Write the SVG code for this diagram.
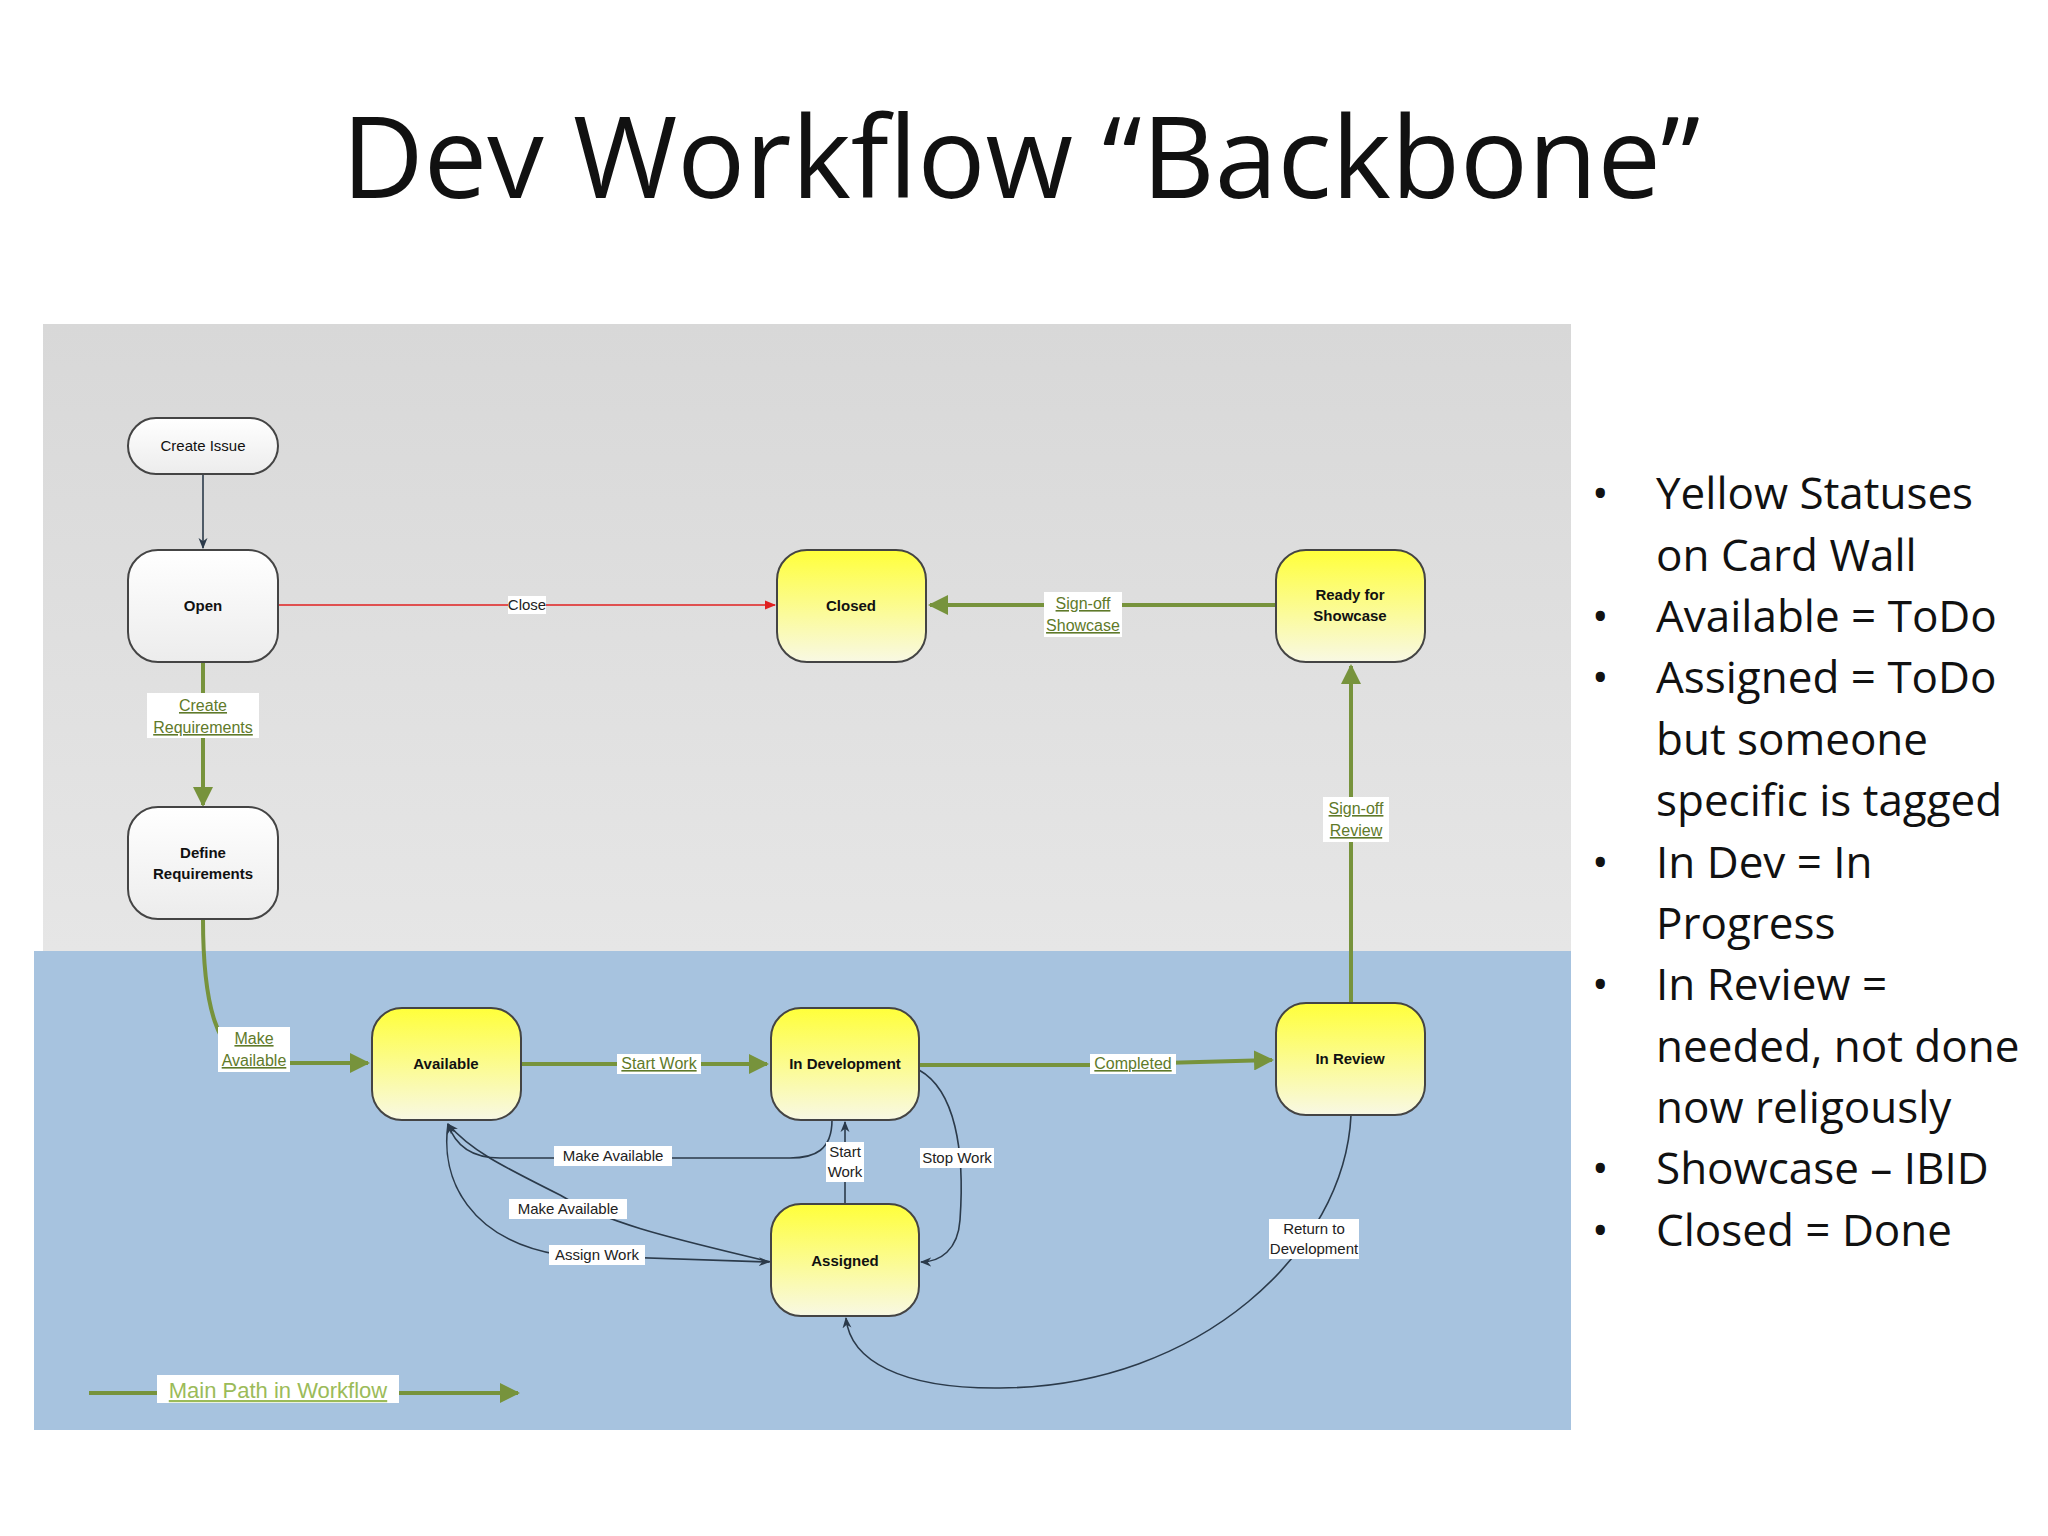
<svg xmlns="http://www.w3.org/2000/svg" width="2048" height="1536" viewBox="0 0 2048 1536">
<defs>
<linearGradient id="yel" x1="0" y1="0" x2="0" y2="1"><stop offset="0" stop-color="#ffff3a"/><stop offset="1" stop-color="#f8f8e4"/></linearGradient>
<linearGradient id="wht" x1="0" y1="0" x2="0" y2="1"><stop offset="0" stop-color="#ffffff"/><stop offset="1" stop-color="#ececec"/></linearGradient>
<linearGradient id="gry" x1="0" y1="0" x2="0" y2="1"><stop offset="0" stop-color="#d8d8d8"/><stop offset="1" stop-color="#e6e6e6"/></linearGradient>
<marker id="ag" viewBox="0 0 10 10" refX="9" refY="5" markerWidth="5" markerHeight="5" orient="auto"><path d="M0,0L10,5L0,10z" fill="#77933c"/></marker>
<marker id="ad" viewBox="0 0 10 10" refX="9" refY="5" markerWidth="7" markerHeight="7" orient="auto"><path d="M0,1L10,5L0,9L3,5z" fill="#2b3a4a"/></marker>
<marker id="ar" viewBox="0 0 10 10" refX="9" refY="5" markerWidth="7" markerHeight="7" orient="auto"><path d="M0,1L10,5L0,9z" fill="#e02020"/></marker>
</defs>
<style>
.n rect{stroke:#444;stroke-width:2}
.y rect{fill:url(#yel)}
.w rect{fill:url(#wht)}
.n text{font-family:"Liberation Sans",Arial,sans-serif;font-size:15px;font-weight:bold;fill:#111;text-anchor:middle}
.w.ci text{font-weight:normal}
.g{fill:none;stroke:#77933c;stroke-width:4;marker-end:url(#ag)}
.d{fill:none;stroke:#2b3a4a;stroke-width:1.6;marker-end:url(#ad)}
.lb{fill:#fff}
.lt{font-family:"Liberation Sans",Arial,sans-serif;font-size:15px;fill:#222;text-anchor:middle}
.lg{font-family:"Liberation Sans",Arial,sans-serif;font-size:16px;fill:#5f7a2a;text-anchor:middle;text-decoration:underline}
.bl{font-family:"Open Sans","Liberation Sans",sans-serif;font-size:44px;fill:#111}
</style>
<rect width="2048" height="1536" fill="#fff"/>
<text x="1021" y="198" font-family="Open Sans, Liberation Sans, sans-serif" font-size="113" text-anchor="middle" fill="#111">Dev Workflow “Backbone”</text>
<rect x="43" y="324" width="1528" height="627" fill="url(#gry)"/>
<rect x="34" y="951" width="1537" height="479" fill="#a7c3df"/>

<g id="connectors">
<path d="M203,474V548" class="d"/>
<path d="M278,605H775" fill="none" stroke="#e02020" stroke-width="1.6" marker-end="url(#ar)"/>
<rect x="508" y="596" width="38" height="18" class="lb"/><text x="527" y="610" class="lt">Close</text>
<path d="M1276,605H930" class="g"/>
<rect x="1044" y="592" width="78" height="45" class="lb"/><text x="1083" y="609" class="lg">Sign-off</text><text x="1083" y="631" class="lg">Showcase</text>
<path d="M203,662V805" class="g"/>
<rect x="147" y="693" width="112" height="45" class="lb"/><text x="203" y="711" class="lg">Create</text><text x="203" y="733" class="lg">Requirements</text>
<path d="M203,919C203,1000 215,1062 260,1063H368" class="g"/>
<rect x="218" y="1027" width="72" height="45" class="lb"/><text x="254" y="1044" class="lg">Make</text><text x="254" y="1066" class="lg">Available</text>
<path d="M521,1064H767" class="g"/>
<rect x="617" y="1054" width="84" height="20" class="lb"/><text x="659" y="1069" class="lg">Start Work</text>
<path d="M919,1065H1090L1272,1060" class="g"/>
<rect x="1090" y="1054" width="86" height="20" class="lb"/><text x="1133" y="1069" class="lg">Completed</text>
<path d="M1351,1003V666" class="g"/>
<rect x="1323" y="797" width="66" height="45" class="lb"/><text x="1356" y="814" class="lg">Sign-off</text><text x="1356" y="836" class="lg">Review</text>
<path d="M845,1204V1122" class="d"/>
<path d="M832,1120C832,1150 815,1158 790,1158H500C470,1158 455,1145 448,1124" class="d"/>
<rect x="554" y="1146" width="118" height="20" class="lb"/><text x="613" y="1161" class="lt">Make Available</text>
<path d="M771,1262C680,1240 610,1225 560,1195C500,1165 470,1150 448,1124" class="d"/>
<path d="M448,1124C440,1180 470,1240 560,1255L769,1262" class="d"/>
<rect x="509" y="1199" width="118" height="20" class="lb"/><text x="568" y="1214" class="lt">Make Available</text>
<rect x="549" y="1245" width="96" height="20" class="lb"/><text x="597" y="1260" class="lt">Assign Work</text>
<rect x="826" y="1142" width="38" height="40" class="lb"/><text x="845" y="1157" class="lt">Start</text><text x="845" y="1177" class="lt">Work</text>
<path d="M919,1070C955,1090 965,1150 960,1220C958,1250 940,1262 921,1262" class="d"/>
<rect x="920" y="1148" width="74" height="20" class="lb"/><text x="957" y="1163" class="lt">Stop Work</text>
<path d="M1351,1115C1345,1250 1200,1387 1000,1388C900,1389 850,1360 846,1318" class="d"/>
<rect x="1269" y="1219" width="90" height="40" class="lb"/><text x="1314" y="1234" class="lt">Return to</text><text x="1314" y="1254" class="lt">Development</text>
</g>

<g id="create-issue" class="n w ci"><rect x="128" y="418" width="150" height="56" rx="28"/><text x="203" y="451">Create Issue</text></g>
<g id="open" class="n w"><rect x="128" y="550" width="150" height="112" rx="30"/><text x="203" y="611">Open</text></g>
<g id="define-requirements" class="n w"><rect x="128" y="807" width="150" height="112" rx="30"/><text x="203" y="858">Define</text><text x="203" y="879">Requirements</text></g>
<g id="closed" class="n y"><rect x="777" y="550" width="149" height="112" rx="30"/><text x="851" y="611">Closed</text></g>
<g id="ready-for-showcase" class="n y"><rect x="1276" y="550" width="149" height="112" rx="30"/><text x="1350" y="600">Ready for</text><text x="1350" y="621">Showcase</text></g>
<g id="available" class="n y"><rect x="372" y="1008" width="149" height="112" rx="30"/><text x="446" y="1069">Available</text></g>
<g id="in-development" class="n y"><rect x="771" y="1008" width="148" height="112" rx="30"/><text x="845" y="1069">In Development</text></g>
<g id="in-review" class="n y"><rect x="1276" y="1003" width="149" height="112" rx="30"/><text x="1350" y="1064">In Review</text></g>
<g id="assigned" class="n y"><rect x="771" y="1204" width="148" height="112" rx="30"/><text x="845" y="1266">Assigned</text></g>

<g id="legend">
<path d="M89,1393H518" class="g"/>
<rect x="157" y="1375" width="242" height="28" class="lb"/>
<text x="278" y="1398" font-family="Liberation Sans, Arial, sans-serif" font-size="22" fill="#9bbb59" text-anchor="middle" text-decoration="underline">Main Path in Workflow</text>
</g>

<g id="bullets" class="bl">
<text x="1592" y="509">•</text><text x="1656" y="509">Yellow Statuses</text>
<text x="1656" y="571">on Card Wall</text>
<text x="1592" y="632">•</text><text x="1656" y="632">Available = ToDo</text>
<text x="1592" y="693">•</text><text x="1656" y="693">Assigned = ToDo</text>
<text x="1656" y="755">but someone</text>
<text x="1656" y="816">specific is tagged</text>
<text x="1592" y="878">•</text><text x="1656" y="878">In Dev = In</text>
<text x="1656" y="939">Progress</text>
<text x="1592" y="1000">•</text><text x="1656" y="1000">In Review =</text>
<text x="1656" y="1062">needed, not done</text>
<text x="1656" y="1123">now religously</text>
<text x="1592" y="1184">•</text><text x="1656" y="1184">Showcase – IBID</text>
<text x="1592" y="1246">•</text><text x="1656" y="1246">Closed = Done</text>
</g>
</svg>
